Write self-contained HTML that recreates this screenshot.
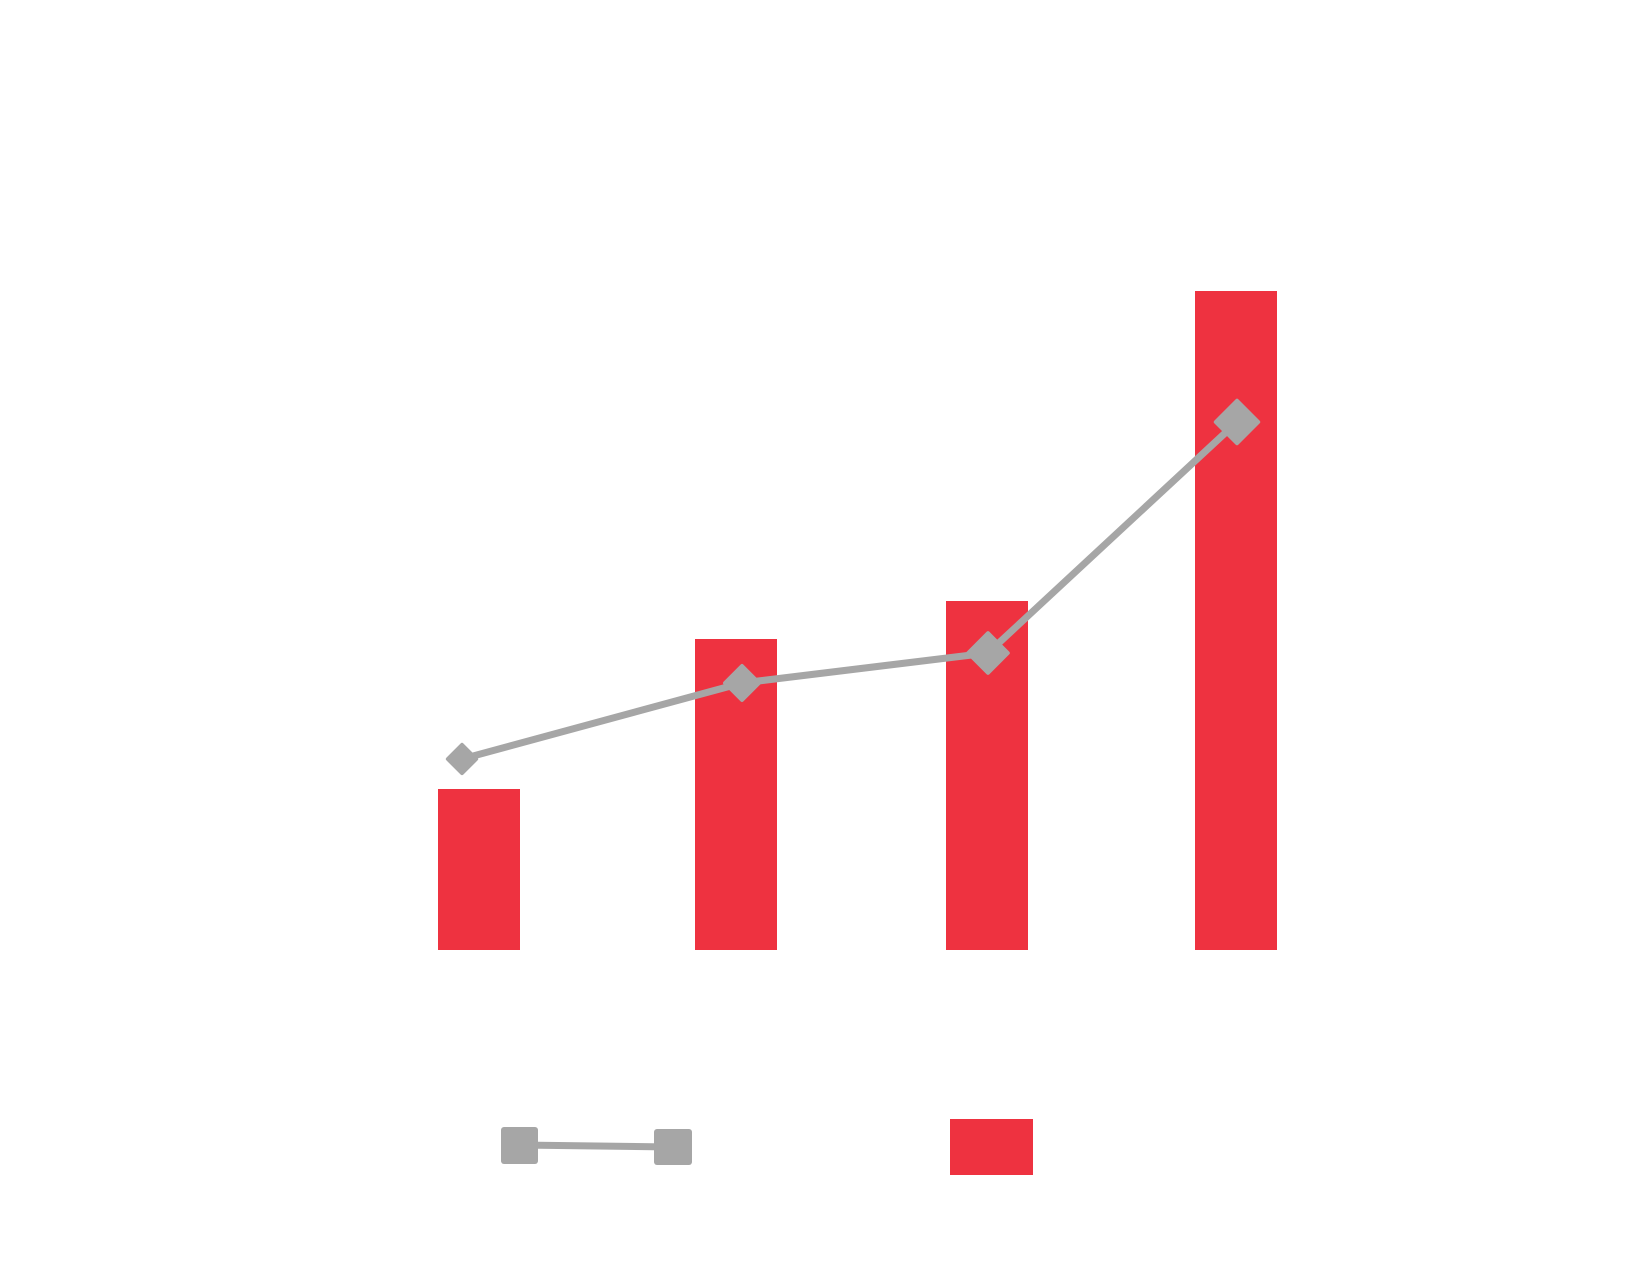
<!DOCTYPE html>
<html><head><meta charset="utf-8"><style>
html,body{margin:0;padding:0;background:#fff;width:1650px;height:1275px;overflow:hidden;font-family:"Liberation Sans",sans-serif}
</style></head><body>
<svg id="chart" width="1650" height="1275" xmlns="http://www.w3.org/2000/svg">
<g id="bars"></g>
<g id="line"></g>
<g>
  <line x1="519" y1="1145" x2="671" y2="1147" stroke="#a6a6a6" stroke-width="7"/>
  <rect x="501" y="1127" width="37" height="37" rx="3" fill="#a6a6a6"/>
  <rect x="654" y="1129" width="38" height="36" rx="3" fill="#a6a6a6"/>
  <rect x="950" y="1119" width="83" height="56" fill="#ee3240"/>
</g>
</svg>
<script>
const categories = ["A","B","C","D"];
const barValues = [161, 311, 349, 659];
const lineValues = [191, 267, 297, 528];
function xPos(i){ return [479, 736, 987, 1236][i]; }
function yPos(v){ return 950 - v; }
const ns = "http://www.w3.org/2000/svg";
const bars = document.getElementById('bars');
barValues.forEach((v,i)=>{
  const r = document.createElementNS(ns,'rect');
  r.setAttribute('x', xPos(i)-41);
  r.setAttribute('y', yPos(v));
  r.setAttribute('width', 82);
  r.setAttribute('height', v);
  r.setAttribute('fill', '#ee3240');
  
  
  bars.appendChild(r);
});
const lineG = document.getElementById('line');
const lxOff = [-17, 6, 1, 1];
const pts = lineValues.map((v,i)=>[xPos(i)+lxOff[i], yPos(v)]);
const pl = document.createElementNS(ns,'polyline');
pl.setAttribute('points', pts.map(p=>p.join(',')).join(' '));
pl.setAttribute('fill','none');
pl.setAttribute('stroke','#a6a6a6');
pl.setAttribute('stroke-width','7');


lineG.appendChild(pl);
const sizes = [24, 28, 32, 34];
pts.forEach((p,i)=>{
  const s = sizes[i];
  const r = document.createElementNS(ns,'rect');
  r.setAttribute('x', p[0]-s/2);
  r.setAttribute('y', p[1]-s/2);
  r.setAttribute('width', s);
  r.setAttribute('height', s);
  r.setAttribute('rx', 2);
  r.setAttribute('fill','#a6a6a6');
  r.setAttribute('transform','rotate(45 '+p[0]+' '+p[1]+')');
  
  
  lineG.appendChild(r);
});
</script>
</body></html>
